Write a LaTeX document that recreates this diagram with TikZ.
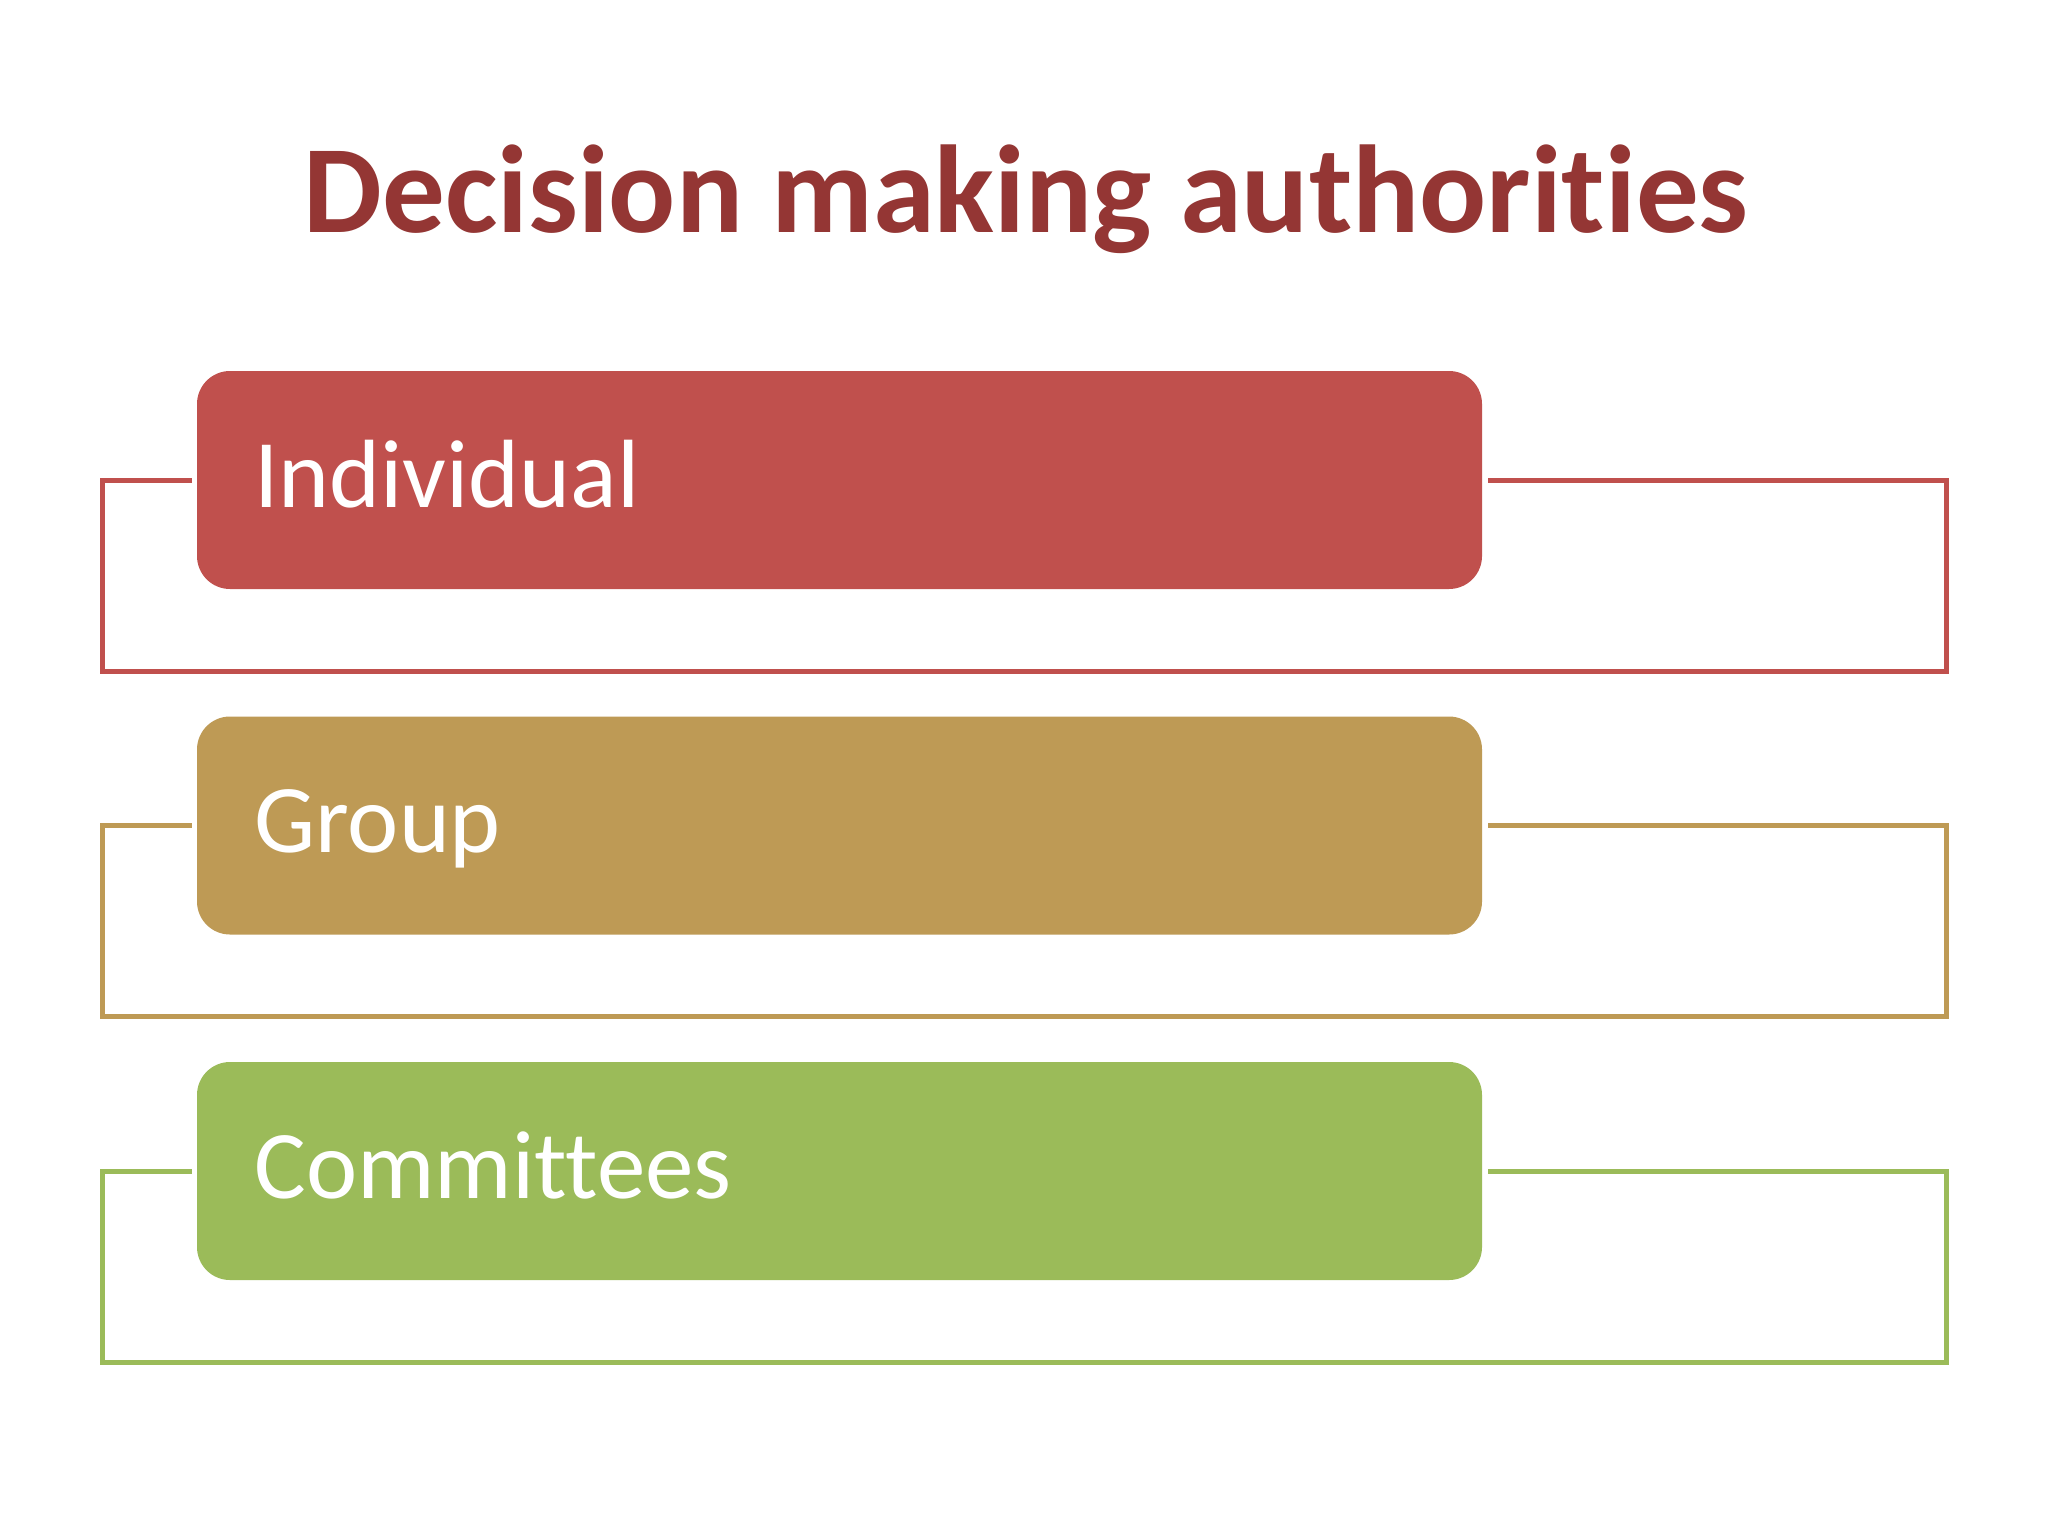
\documentclass[tikz,border=0pt]{standalone}
\usepackage{fontspec}
\setmainfont{Carlito}[Ligatures=CommonOff]
\definecolor{titlecol}{HTML}{943634}
\definecolor{redc}{HTML}{C0504D}
\definecolor{goldc}{HTML}{BE9A55}
\definecolor{greenc}{HTML}{9BBB59}
\begin{document}
\begin{tikzpicture}[x=0.5pt,y=-0.5pt,
  itembox/.style={fill=#1, draw=none, rounded corners=16.5pt, minimum width=642.5pt, minimum height=109pt, inner sep=0pt},
  itemtext/.style={text=white, anchor=base west, inner sep=0pt, font=\fontsize{48.5}{58}\selectfont},
  frameline/.style={draw=#1, line width=2.5pt, line join=miter}]
\useasboundingbox[fill=white] (0,0) rectangle (2048,1536);
\node[anchor=base, text=titlecol, inner sep=0pt, font=\fontsize{62.5}{75}\selectfont\bfseries] (title) at (1026,232) {Decision making authorities};
\foreach \n/\c/\t/\y in {b1/redc/Individual/480, b2/goldc/Group/825.5, b3/greenc/Committees/1171}{
  \node[itembox=\c] (\n) at (839.5,\y) {};
  \node[itemtext] (\n t) at (254,\y+27) {\t};
  \draw[frameline=\c] ([xshift=-2.5pt]\n.west) -- (102,\y) -- (102,\y+191) -- (1946,\y+191) -- (1946,\y) -- ([xshift=3pt]\n.east);
}
\end{tikzpicture}
\end{document}
